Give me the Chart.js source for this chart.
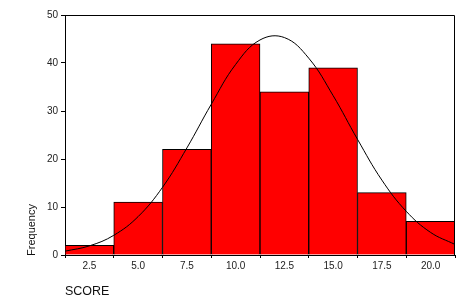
<!DOCTYPE html>
<html>
<head>
<meta charset="utf-8">
<script src="https://cdn.jsdelivr.net/npm/chart.js@4/dist/chart.umd.min.js"></script>
<style>
  body { margin: 0; background: #fff; }
  #wrap { width: 474px; height: 305px; }
</style>
</head>
<body>
<div id="wrap"><canvas id="canvas" width="474" height="305"></canvas></div>
<script>
// histogram bins (centres) and counts
var binCentres = [2.5, 5.0, 7.5, 10.0, 12.5, 15.0, 17.5, 20.0];
var frequencies = [2, 11, 22, 44, 34, 39, 13, 7];

// normal curve
var curveX = [1.25, 2.5, 3.75, 5.0, 6.25, 7.5, 8.75, 10.0, 11.25, 12.5, 13.75, 15.0, 16.25, 17.5, 18.75, 20.0, 21.25];
var curveY = [0.8, 1.9, 4.1, 8.0, 14.1, 22.3, 31.4, 39.7, 44.8, 45.3, 41.0, 33.2, 24.1, 15.6, 9.1, 4.7, 2.2];

var xTicks = [2.5, 5.0, 7.5, 10.0, 12.5, 15.0, 17.5, 20.0];
var yTicks = [0, 10, 20, 30, 40, 50];

var barData = binCentres.map(function(x, i) { return {x: x, y: frequencies[i]}; });
var curveData = curveX.map(function(x, i) { return {x: x, y: curveY[i]}; });

var tickFont = {family: "'Liberation Sans', Arial, sans-serif", size: 10};

// frame around the plot and the two axis titles
var framePlugin = {
  id: 'frame',
  afterDraw: function(chart) {
    var ctx = chart.ctx, a = chart.chartArea;
    ctx.save();
    ctx.strokeStyle = '#000';
    ctx.lineWidth = 1;
    ctx.beginPath();
    ctx.moveTo(a.left, a.top + 0.5);
    ctx.lineTo(a.right - 0.5, a.top + 0.5);
    ctx.lineTo(a.right - 0.5, a.bottom);
    ctx.stroke();
    ctx.fillStyle = '#111';
    ctx.font = "12.5px 'Liberation Sans', Arial, sans-serif";
    ctx.textBaseline = 'middle';
    ctx.textAlign = 'left';
    ctx.fillText('SCORE', 65, 292);
    ctx.translate(32, 230);
    ctx.rotate(-Math.PI / 2);
    ctx.textAlign = 'center';
    ctx.font = "11px 'Liberation Sans', Arial, sans-serif";
    ctx.fillText('Frequency', 0, 0);
    ctx.restore();
  }
};

var chart = new Chart(document.getElementById("canvas").getContext("2d"), {
  data: {
    datasets: [{
      type: 'line',
      data: curveData,
      borderColor: '#000',
      borderWidth: 1,
      pointRadius: 0,
      tension: 0.4,
      fill: false,
      order: 0
    }, {
      type: 'bar',
      data: barData,
      backgroundColor: '#ff0000',
      borderColor: '#000',
      borderWidth: 1,
      barPercentage: 1,
      categoryPercentage: 1,
      order: 1
    }]
  },
  options: {
    responsive: false,
    animation: false,
    layout: { padding: { top: 15, right: 19, left: 0, bottom: 0 } },
    plugins: { legend: { display: false }, tooltip: { enabled: false } },
    scales: {
      x: {
        type: 'linear',
        offset: false,
        min: 1.25,
        max: 21.25,
        afterBuildTicks: function(scale) {
          scale.ticks = xTicks.map(function(v) { return {value: v}; });
        },
        afterFit: function(scale) { scale.height = 50; },
        ticks: {
          color: '#222',
          font: tickFont,
          padding: 2,
          maxRotation: 0,
          callback: function(v) { return Number(v).toFixed(1); }
        },
        grid: { drawOnChartArea: false, drawTicks: true, tickLength: 3, color: '#000' },
        border: { color: '#000' }
      },
      y: {
        min: 0,
        max: 50,
        afterBuildTicks: function(scale) {
          scale.ticks = yTicks.map(function(v) { return {value: v}; });
        },
        afterFit: function(scale) { scale.width = 65; },
        ticks: { color: '#222', font: tickFont, padding: 3 },
        grid: { drawOnChartArea: false, drawTicks: true, tickLength: 4, color: '#000' },
        border: { color: '#000' }
      }
    }
  },
  plugins: [framePlugin]
});
</script>
</body>
</html>
